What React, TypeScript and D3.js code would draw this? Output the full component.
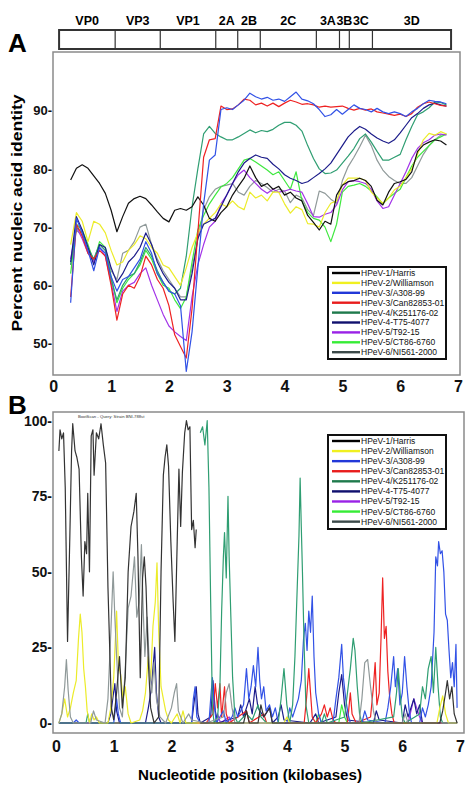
import React, { useEffect, useRef } from "react";
import * as d3 from "d3";

const strains = [
  "HPeV-1/Harris",
  "HPeV-2/Williamson",
  "HPeV-3/A308-99",
  "HPeV-3/Can82853-01",
  "HPeV-4/K251176-02",
  "HPeV-4-T75-4077",
  "HPeV-5/T92-15",
  "HPeV-5/CT86-6760",
  "HPeV-6/NI561-2000",
];
const lineColors = ["#111111", "#ecec2a", "#3252e6", "#ee2222", "#2f9e72", "#1c1c8a", "#a233e8", "#3fe83f", "#8f9999"];
const legendColors = ["#000000", "#f0f020", "#2238d8", "#e81c1c", "#1f7a4c", "#10106e", "#9a22e6", "#36ec36", "#3c4a4a"];

const genes = ["VP0", "VP3", "VP1", "2A", "2B", "2C", "3A", "3B", "3C", "3D"];
const geneEdges = [0.1, 1.07, 1.85, 2.81, 3.19, 3.58, 4.55, 4.95, 5.12, 5.52, 6.88];

// panel A: percent identity, sampled every 0.1 kb from 0.3 to 6.8
const identityPos = d3.range(3, 69).map((i) => i / 10);
const harrisA = [78.1, 80.1, 80.7, 80.1, 78.8, 77.5, 75.8, 72.9, 69.2, 71.8,
  74.1, 74.9, 75.3, 74.9, 73.8, 72.6, 71.5, 70.9, 72.9, 73.2,
  72.9, 73.5, 75.2, 73.8, 71.5, 71.0, 72.5, 73.5, 75.5, 77.0,
  78.4, 80.5, 78.5, 77.0, 77.5, 76.5, 77.0, 75.5, 76.0, 75.0,
  74.5, 72.0, 70.8, 69.5, 71.0, 70.5, 75.5, 77.2, 77.8, 78.0,
  78.4, 78.0, 77.0, 74.6, 73.8, 76.0, 77.5, 77.8, 78.2, 79.5,
  83.0, 84.1, 84.6, 85.0, 84.8, 84.1];
const williamsonA = [67, 72.5, 71, 67.5, 71, 70.5, 69, 66, 63.5, 64,
  66, 67, 68.5, 68, 66.5, 65.5, 63.5, 63, 61.5, 60,
  63, 66.5, 69, 70.5, 71.5, 72.5, 74, 73.5, 74.5, 73.5,
  73.0, 76.0, 75.0, 75.5, 74.5, 76.0, 76.0, 74.0, 72.4, 73.5,
  73.0, 70.6, 70.5, 70.0, 72.5, 74.1, 74.5, 77.2, 78.4, 78.4,
  78.4, 78.0, 76.0, 75.0, 74.1, 75.0, 76.4, 77.0, 78.5, 80.0,
  82.5, 85.0, 86.1, 85.8, 86.4, 86.0];
const a308A = [57, 71.5, 69, 66, 62.5, 66.5, 65.5, 61.5, 59, 61,
  61.5, 63, 64.5, 67.5, 65.5, 62, 60.5, 59, 58.5, 56.5,
  45.2, 52, 63, 74, 81.5, 82.4, 90.2, 90.5, 90.2, 91.0,
  91.8, 93.0, 92.4, 92.0, 92.3, 91.8, 92.0, 91.6, 92.4, 93.2,
  92.0, 91.7, 91.2, 90.2, 89.0, 89.3, 90.2, 89.4, 90.2, 91.0,
  90.4, 90.2, 89.8, 90.4, 89.8, 89.5, 89.8, 89.5, 89.0, 89.8,
  90.4, 91.2, 91.8, 91.6, 91.5, 91.2];
const can82853A = [58, 70.5, 68.5, 65.5, 64.5, 66, 65, 60, 54, 58.5,
  60, 59.5, 61.5, 65, 63.5, 61, 59.5, 56.5, 51.5, 49.5,
  47.5, 56, 69, 82, 85, 85.2, 90.8, 90.2, 90.3, 91.0,
  92.0, 91.8, 91.0, 91.3, 90.8, 91.3, 90.7, 91.3, 91.8, 91.5,
  91.1, 91.2, 91.0, 90.6, 90.8, 90.6, 90.7, 90.8, 90.4, 90.1,
  90.4, 90.1, 90.3, 89.8, 89.6, 89.4, 89.2, 89.4, 89.0, 89.5,
  90.6, 91.2, 91.5, 91.2, 90.9, 90.8];
const k251176A = [63.5, 70, 69, 66.5, 64.5, 67, 66, 61, 57.5, 60,
  61.5, 62, 64, 66.5, 65, 62.5, 60.5, 59, 58.5, 59.5,
  65, 73.5, 80, 86, 87.3, 86.1, 85.5, 85.0, 85.0, 85.5,
  86.1, 86.7, 86.2, 86.6, 86.4, 86.8, 87.5, 88.0, 88.0, 87.5,
  86.5, 84.0, 81.8, 80.0, 79.2, 79.3, 79.8, 81.0, 82.2, 83.5,
  85.2, 86.0, 84.6, 83.0, 81.5, 81.5, 82.0, 82.5, 85.0, 87.3,
  89.3, 89.8, 90.5, 91.5, 91.4, 91.0];
const t754077A = [64, 71.8, 69.5, 66.5, 63.5, 67, 66.5, 63, 60.5, 62,
  64, 65, 66.5, 69, 67, 64, 62, 60.5, 59.5, 57.5,
  57.5, 62, 68, 70.5, 71, 71.5, 73.5, 75.5, 77.5, 79.5,
  81.0, 81.8, 82.4, 82.0, 81.8, 80.8, 80.0, 79.0, 78.4, 78.0,
  77.5, 77.8, 78.5, 79.2, 80.0, 81.0, 82.5, 84.0, 85.5, 86.5,
  87.3, 86.8, 86.0, 85.3, 84.8, 84.4, 85.0, 86.2, 87.5, 88.8,
  89.5, 90.4, 91.0, 91.3, 91.0, 90.8];
const t9215A = [64.5, 70, 68, 65.5, 64, 66.5, 65, 60.5, 55.5, 59,
  60, 60.5, 62, 63, 60, 57.5, 55, 53, 52, 51.2,
  50.5, 58, 63.5, 67, 70, 71, 74, 75.5, 77.5, 79.0,
  79.8, 78.5, 77.5, 76.5, 75.8, 76.5, 76.0, 76.2, 76.5, 76.2,
  76.0, 74.0, 71.8, 71.7, 72.2, 72.5, 73.8, 76.4, 77.8, 78.0,
  77.8, 77.5, 76.5, 74.5, 73.2, 73.5, 75.5, 77.5, 79.5, 81.8,
  83.5, 84.5, 85.0, 85.8, 86.0, 85.8];
const ct866760A = [62, 70.5, 69.5, 67, 64, 67.5, 66.5, 61.5, 57, 59.5,
  61, 62, 63.5, 66, 64.5, 62, 60, 59.5, 57.5, 56,
  58, 64, 69.5, 72, 74, 75.5, 76.9, 77.5, 78.5, 80,
  81.5, 81.8, 81.2, 80.5, 79.8, 79.0, 79.5, 78.0, 76.5, 79.5,
  74.5, 72.5, 71.5, 71.2, 70.0, 67.5, 70.5, 76.0, 77.0, 77.2,
  77.5, 77.0, 76.2, 75.2, 74.0, 75.0, 75.8, 76.5, 78.5, 80.5,
  82.0, 83.0, 84.0, 85.0, 85.5, 86.0];
const ni561A = [63.5, 69.5, 68.5, 66, 64.5, 67, 66, 62.5, 61, 65.5,
  66, 67.5, 70, 70.5, 67, 64.5, 62.5, 61, 59.5, 58,
  58, 63, 68, 73, 75.2, 76.5, 77.0, 77.2, 77.5, 76.0,
  75.5, 77.0, 78.0, 77.5, 76.8, 76.0, 76.5, 76.2, 74.2, 75.5,
  75.0, 73.0, 72.0, 76.2, 75.8, 74.8, 74.1, 78.0, 80.4, 82.0,
  83.8, 85.8, 84.0, 81.5, 79.8, 78.7, 78.0, 77.5, 77.5, 78.5,
  80.5, 82.5, 84.0, 85.0, 85.8, 86.0];
const identitySeries = [harrisA, williamsonA, a308A, can82853A, k251176A, t754077A, t9215A, ct866760A, ni561A];

// panel B: bootscan support, [kb, value] vertices (null = gap)
type Pt = [number, number | null];
const harrisB: Pt[] = [[0.05, 90], [0.07, 97], [0.1, 94], [0.13, 96], [0.16, 78], [0.2, 27], [0.24, 62], [0.27, 90], [0.29, 99],
  [0.33, 90], [0.36, 88], [0.4, 84], [0.44, 55], [0.47, 42], [0.5, 60], [0.53, 56], [0.55, 76], [0.58, 50], [0.61, 95], [0.64, 97],
  [0.66, 82], [0.7, 96], [0.74, 94], [0.78, 99], [0.82, 92], [0.86, 86], [0.9, 45], [0.93, 25], [0.96, 5], [1.0, 1], [1.05, 10],
  [1.1, 22], [1.15, 5], [1.2, 15], [1.25, 50], [1.3, 65], [1.35, 70], [1.39, 76], [1.42, 55], [1.46, 15], [1.5, 48], [1.53, 55],
  [1.56, 45], [1.6, 20], [1.64, 5], [1.7, 0], [1.78, 2], [1.82, 50], [1.86, 82], [1.89, 88], [1.92, 92], [1.95, 85], [1.99, 60],
  [2.03, 40], [2.06, 27], [2.1, 60], [2.13, 84], [2.16, 65], [2.19, 83], [2.23, 96], [2.26, 100], [2.29, 97], [2.32, 98], [2.35, 64],
  [2.38, 67], [2.41, 58], [2.43, 64], [2.44, null], [2.5, 0], [3.25, 0], [3.3, 4], [3.35, 0], [3.5, 0], [3.55, 6], [3.6, 2],
  [3.7, 5], [3.75, 0], [6.65, 0], [6.7, 4], [6.75, 10], [6.78, 14], [6.82, 8], [6.86, 12], [6.9, 3], [6.95, 0]];
const williamsonB: Pt[] = [[0.05, 0], [0.1, 3], [0.15, 8], [0.2, 2], [0.25, 5], [0.3, 10], [0.35, 14], [0.39, 28], [0.42, 36],
  [0.45, 30], [0.48, 18], [0.51, 12], [0.54, 4], [0.58, 0], [0.62, 3], [0.66, 1], [0.7, 2], [0.75, 0], [0.9, 0], [0.95, 5],
  [1.0, 15], [1.05, 37], [1.08, 20], [1.12, 16], [1.16, 8], [1.2, 12], [1.25, 3], [1.3, 0], [1.45, 1], [1.5, 4], [1.55, 10],
  [1.6, 22], [1.64, 14], [1.68, 32], [1.72, 40], [1.75, 53], [1.78, 30], [1.82, 12], [1.86, 8], [1.9, 4], [1.95, 1], [2.0, 0],
  [2.1, 3], [2.15, 0], [2.2, 4], [2.25, 0], [3.95, 0], [4.0, 2], [4.05, 0], [6.6, 0], [6.65, 5], [6.7, 9], [6.75, 3], [6.8, 0], [6.95, 0]];
const a308B: Pt[] = [[0.05, 0], [0.3, 0], [0.35, 1], [0.4, 0], [1.0, 0], [1.05, 8], [1.08, 3], [1.12, 0], [2.35, 0], [2.38, 8],
  [2.41, 12], [2.44, 2], [2.5, 0], [2.65, 0], [2.68, 8], [2.71, 15], [2.74, 6], [2.78, 0], [2.9, 4], [2.95, 0], [3.05, 2], [3.1, 5],
  [3.15, 2], [3.25, 6], [3.3, 18], [3.34, 8], [3.38, 12], [3.42, 19], [3.46, 12], [3.5, 25], [3.53, 14], [3.56, 8], [3.6, 12],
  [3.64, 4], [3.7, 6], [3.75, 2], [3.8, 5], [3.85, 0], [4.0, 0], [4.05, 5], [4.1, 2], [4.2, 8], [4.25, 14], [4.29, 28], [4.32, 33],
  [4.35, 24], [4.38, 37], [4.41, 30], [4.44, 42], [4.47, 22], [4.5, 10], [4.55, 3], [4.6, 0], [4.8, 0], [4.85, 8], [4.9, 15],
  [4.95, 26], [4.98, 15], [5.02, 8], [5.06, 3], [5.1, 0], [5.3, 0], [5.35, 4], [5.4, 1], [5.7, 0], [5.75, 5], [5.8, 12], [5.85, 22],
  [5.88, 12], [5.92, 18], [5.96, 6], [6.0, 10], [6.04, 22], [6.08, 12], [6.12, 4], [6.16, 0], [6.3, 0], [6.35, 5], [6.4, 2],
  [6.45, 6], [6.5, 12], [6.55, 30], [6.58, 55], [6.61, 52], [6.63, 60], [6.66, 56], [6.69, 57], [6.72, 50], [6.75, 36], [6.78, 34],
  [6.81, 24], [6.84, 15], [6.87, 20], [6.9, 12], [6.93, 26], [6.95, 5]];
const can82853B: Pt[] = [[0.05, 0], [2.6, 0], [2.72, 3], [2.76, 13], [2.8, 5], [2.84, 13], [2.87, 2], [2.92, 12], [2.95, 3],
  [3.0, 0], [3.3, 4], [3.35, 0], [3.6, 3], [3.65, 0], [4.3, 0], [4.34, 8], [4.38, 18], [4.41, 10], [4.44, 2], [4.5, 0], [4.6, 3],
  [4.65, 6], [4.7, 2], [4.75, 5], [4.8, 1], [4.85, 0], [5.05, 0], [5.1, 10], [5.13, 3], [5.2, 0], [5.45, 2], [5.5, 12], [5.53, 20],
  [5.56, 6], [5.6, 10], [5.63, 27], [5.66, 48], [5.69, 28], [5.72, 32], [5.75, 17], [5.78, 9], [5.82, 3], [5.86, 0], [6.95, 0]];
const k251176B: Pt[] = [[0.05, 0], [0.52, 0], [0.55, 3], [0.58, 0], [2.45, 0], [2.47, null], [2.5, 96], [2.54, 98], [2.58, 92],
  [2.62, 100], [2.65, 78], [2.68, 40], [2.71, 5], [2.74, 0], [2.8, 2], [2.84, 12], [2.87, 37], [2.9, 55], [2.92, 63], [2.95, 48],
  [2.98, 75], [3.0, 55], [3.03, 35], [3.06, 15], [3.1, 2], [3.15, 0], [3.3, 3], [3.4, 1], [3.5, 6], [3.55, 2], [3.65, 0], [3.85, 0],
  [3.9, 8], [3.95, 18], [4.0, 6], [4.05, 0], [4.1, 6], [4.14, 22], [4.18, 45], [4.21, 62], [4.23, 81], [4.25, 65], [4.27, 50],
  [4.3, 25], [4.33, 6], [4.38, 0], [4.6, 0], [4.65, 3], [4.7, 0], [5.0, 2], [5.05, 10], [5.1, 18], [5.15, 28], [5.18, 24], [5.22, 12],
  [5.26, 3], [5.3, 0], [5.85, 2], [5.9, 10], [5.93, 18], [5.97, 8], [6.0, 2], [6.05, 0], [6.3, 3], [6.35, 12], [6.4, 8], [6.45, 18],
  [6.5, 22], [6.54, 10], [6.58, 25], [6.62, 12], [6.66, 2], [6.7, 0], [6.95, 0]];
const t754077B: Pt[] = [[0.05, 0], [0.9, 0], [0.95, 3], [0.99, 9], [1.02, 13], [1.05, 4], [1.1, 0], [1.55, 0], [1.6, 5], [1.65, 11],
  [1.68, 18], [1.71, 25], [1.74, 10], [1.78, 2], [1.82, 0], [2.35, 0], [2.4, 8], [2.43, 12], [2.46, 3], [2.5, 0], [2.68, 2],
  [2.72, 14], [2.76, 4], [2.8, 0], [3.15, 2], [3.2, 6], [3.25, 2], [3.35, 8], [3.4, 3], [3.45, 12], [3.5, 5], [3.6, 2], [3.7, 5],
  [3.75, 0], [3.85, 2], [3.9, 6], [3.95, 1], [4.4, 0], [4.5, 3], [4.55, 0], [4.85, 2], [4.9, 10], [4.95, 16], [5.0, 6], [5.05, 1],
  [5.5, 0], [5.55, 4], [5.6, 1], [6.0, 0], [6.05, 6], [6.1, 2], [6.2, 8], [6.25, 3], [6.3, 6], [6.35, 0], [6.95, 0]];
const t9215B: Pt[] = [[0.05, 0], [2.75, 0], [2.8, 3], [2.85, 0], [3.0, 2], [3.05, 0], [6.1, 0], [6.15, 4], [6.2, 8], [6.25, 5],
  [6.3, 2], [6.35, 0], [6.95, 0]];
const ct866760B: Pt[] = [[0.05, 0], [4.5, 0], [4.55, 3], [4.6, 0], [4.9, 0], [4.95, 6], [5.0, 2], [5.05, 0], [6.95, 0]];
const ni561B: Pt[] = [[0.05, 0], [0.1, 3], [0.15, 12], [0.18, 21], [0.21, 11], [0.25, 2], [0.3, 0], [0.6, 0], [0.65, 4], [0.7, 1],
  [0.85, 0], [0.9, 8], [0.95, 30], [0.99, 50], [1.02, 35], [1.05, 22], [1.1, 5], [1.15, 2], [1.2, 18], [1.25, 38], [1.3, 42],
  [1.36, 55], [1.4, 35], [1.44, 40], [1.48, 59], [1.51, 38], [1.54, 22], [1.58, 35], [1.62, 18], [1.66, 10], [1.7, 20], [1.74, 8],
  [1.8, 2], [1.9, 0], [2.0, 5], [2.05, 10], [2.09, 13], [2.12, 4], [2.2, 0], [2.3, 3], [2.35, 1], [2.6, 0], [2.9, 2], [2.95, 10],
  [3.0, 13], [3.05, 5], [3.1, 0], [5.25, 0], [5.3, 8], [5.35, 20], [5.4, 21], [5.45, 12], [5.5, 4], [5.55, 0], [6.0, 0], [6.05, 3],
  [6.1, 0], [6.95, 0]];
const bootSeries = [harrisB, williamsonB, a308B, can82853B, k251176B, t754077B, t9215B, ct866760B, ni561B];

const xTicks = [0, 1, 2, 3, 4, 5, 6, 7];
const yTicksA = [50, 60, 70, 80, 90];
const yTicksB = [0, 25, 50, 75, 100];

const FONT = "'Liberation Sans', Arial, sans-serif";

const App = () => {
  const svgRef = useRef(null);

  useEffect(() => {
    const svg = d3.select(svgRef.current);
    svg.selectAll("*").remove();

    const xA = d3.scaleLinear().domain([0, 7]).range([53.3, 458]);
    const yA = d3.scaleLinear().domain([50, 90]).range([343.5, 110.7]);
    const xB = d3.scaleLinear().domain([0, 7]).range([56, 460]);
    const yB = d3.scaleLinear().domain([0, 100]).range([723, 420.7]);

    const defs = svg.append("defs");
    defs.append("clipPath").attr("id", "clipA").append("rect").attr("x", 53).attr("y", 52).attr("width", 407).attr("height", 323);
    defs.append("clipPath").attr("id", "clipB").append("rect").attr("x", 53).attr("y", 412).attr("width", 411).attr("height", 321);

    // panel letters
    svg.append("text").attr("x", 8).attr("y", 52).text("A")
      .style("font", `bold 26px ${FONT}`);
    svg.append("text").attr("x", 8).attr("y", 414).text("B")
      .style("font", `bold 26px ${FONT}`);

    // genome map
    const gm = svg.append("g");
    gm.append("rect")
      .attr("x", xA(geneEdges[0])).attr("y", 30)
      .attr("width", xA(geneEdges[geneEdges.length - 1]) - xA(geneEdges[0])).attr("height", 19)
      .attr("fill", "white").attr("stroke", "#333").attr("stroke-width", 2);
    gm.selectAll("line.div").data(geneEdges.slice(1, -1)).enter().append("line")
      .attr("x1", (d) => xA(d)).attr("x2", (d) => xA(d)).attr("y1", 30).attr("y2", 49)
      .attr("stroke", "#333").attr("stroke-width", 1.2);
    gm.selectAll("text").data(genes).enter().append("text")
      .attr("x", (d, i) => (xA(geneEdges[i]) + xA(geneEdges[i + 1])) / 2)
      .attr("y", 25).attr("text-anchor", "middle")
      .style("font", `bold 12.5px ${FONT}`).text((d) => d);

    // ---- panel A ----
    svg.append("rect").attr("x", 53).attr("y", 52).attr("width", 407).attr("height", 323)
      .attr("fill", "none").attr("stroke", "#8a8a8a").attr("stroke-width", 1.5);

    const lineA = d3.line<number>().x((d, i) => xA(identityPos[i])).y((d) => yA(d));
    const orderA = [8, 7, 6, 4, 1, 0, 5, 3, 2];
    const gA = svg.append("g").attr("clip-path", "url(#clipA)");
    orderA.forEach((s) => {
      gA.append("path").datum(identitySeries[s]).attr("d", lineA)
        .attr("fill", "none").attr("stroke", lineColors[s]).attr("stroke-width", 1.2)
        .attr("stroke-linejoin", "round");
    });

    const axXA = svg.append("g").attr("transform", "translate(0,381)")
      .call(d3.axisBottom(xA).tickValues(xTicks).tickSize(0).tickPadding(0).tickFormat(d3.format("d")));
    axXA.select(".domain").remove();
    axXA.selectAll("text").style("font", `bold 16px ${FONT}`).attr("fill", "#111");

    const axYA = svg.append("g").attr("transform", "translate(53,0)")
      .call(d3.axisLeft(yA).tickValues(yTicksA).tickSize(0).tickPadding(1).tickFormat((d) => `${d}-`));
    axYA.select(".domain").remove();
    axYA.selectAll("text").style("font", `bold 13px ${FONT}`).attr("fill", "#111");

    svg.append("text").attr("transform", "translate(22,213) rotate(-90)")
      .attr("text-anchor", "middle").attr("textLength", 237).attr("lengthAdjust", "spacingAndGlyphs")
      .style("font", `bold 15px ${FONT}`).text("Percent nucleic acid identity");

    // ---- panel B ----
    svg.append("rect").attr("x", 53).attr("y", 412).attr("width", 411).attr("height", 321)
      .attr("fill", "none").attr("stroke", "#8a8a8a").attr("stroke-width", 1.5);

    svg.append("text").attr("x", 78).attr("y", 418).style("font", `4.2px ${FONT}`).attr("fill", "#333")
      .text("BootScan - Query: Strain BNI-788st");

    const lineB = d3.line<Pt>().defined((d) => d[1] !== null).x((d) => xB(d[0])).y((d) => yB(d[1] as number));
    const orderB = [7, 6, 5, 3, 2, 4, 1, 8, 0];
    const gB = svg.append("g").attr("clip-path", "url(#clipB)");
    orderB.forEach((s) => {
      gB.append("path").datum(bootSeries[s]).attr("d", lineB)
        .attr("fill", "none").attr("stroke", s === 0 ? "#333" : lineColors[s]).attr("stroke-width", 1.2)
        .attr("stroke-linejoin", "round");
    });

    const axXB = svg.append("g").attr("transform", "translate(0,741)")
      .call(d3.axisBottom(xB).tickValues(xTicks).tickSize(0).tickPadding(0).tickFormat(d3.format("d")));
    axXB.select(".domain").remove();
    axXB.selectAll("text").style("font", `bold 16px ${FONT}`).attr("fill", "#111");

    const axYB = svg.append("g").attr("transform", "translate(53,0)")
      .call(d3.axisLeft(yB).tickValues(yTicksB).tickSize(0).tickPadding(1).tickFormat((d) => `${d}-`));
    axYB.select(".domain").remove();
    axYB.selectAll("text").style("font", `bold 14px ${FONT}`).attr("fill", "#111");

    svg.append("text").attr("x", 250).attr("y", 780).attr("text-anchor", "middle")
      .attr("textLength", 224).attr("lengthAdjust", "spacingAndGlyphs")
      .style("font", `bold 14px ${FONT}`).text("Nucleotide position (kilobases)");

    // legends
    const drawLegend = (top: number, h: number, step: number) => {
      const lg = svg.append("g");
      lg.append("rect").attr("x", 328).attr("y", top).attr("width", 118).attr("height", h)
        .attr("fill", "white").attr("stroke", "#111").attr("stroke-width", 2);
      strains.forEach((name, i) => {
        const y = top + 6 + i * step;
        lg.append("line").attr("x1", 332).attr("x2", 360).attr("y1", y).attr("y2", y)
          .attr("stroke", legendColors[i]).attr("stroke-width", 2.4);
        lg.append("text").attr("x", 361).attr("y", y).attr("dy", "0.35em")
          .style("font", `8.5px ${FONT}`).attr("fill", "#111").text(name);
      });
    };
    drawLegend(267, 92, 9.9);
    drawLegend(435, 94, 10.08);
  }, []);

  return (
    <svg ref={svgRef} width={474} height={795}
      style={{ position: "absolute", left: 0, top: 0, background: "white" }} />
  );
};

export default App;
